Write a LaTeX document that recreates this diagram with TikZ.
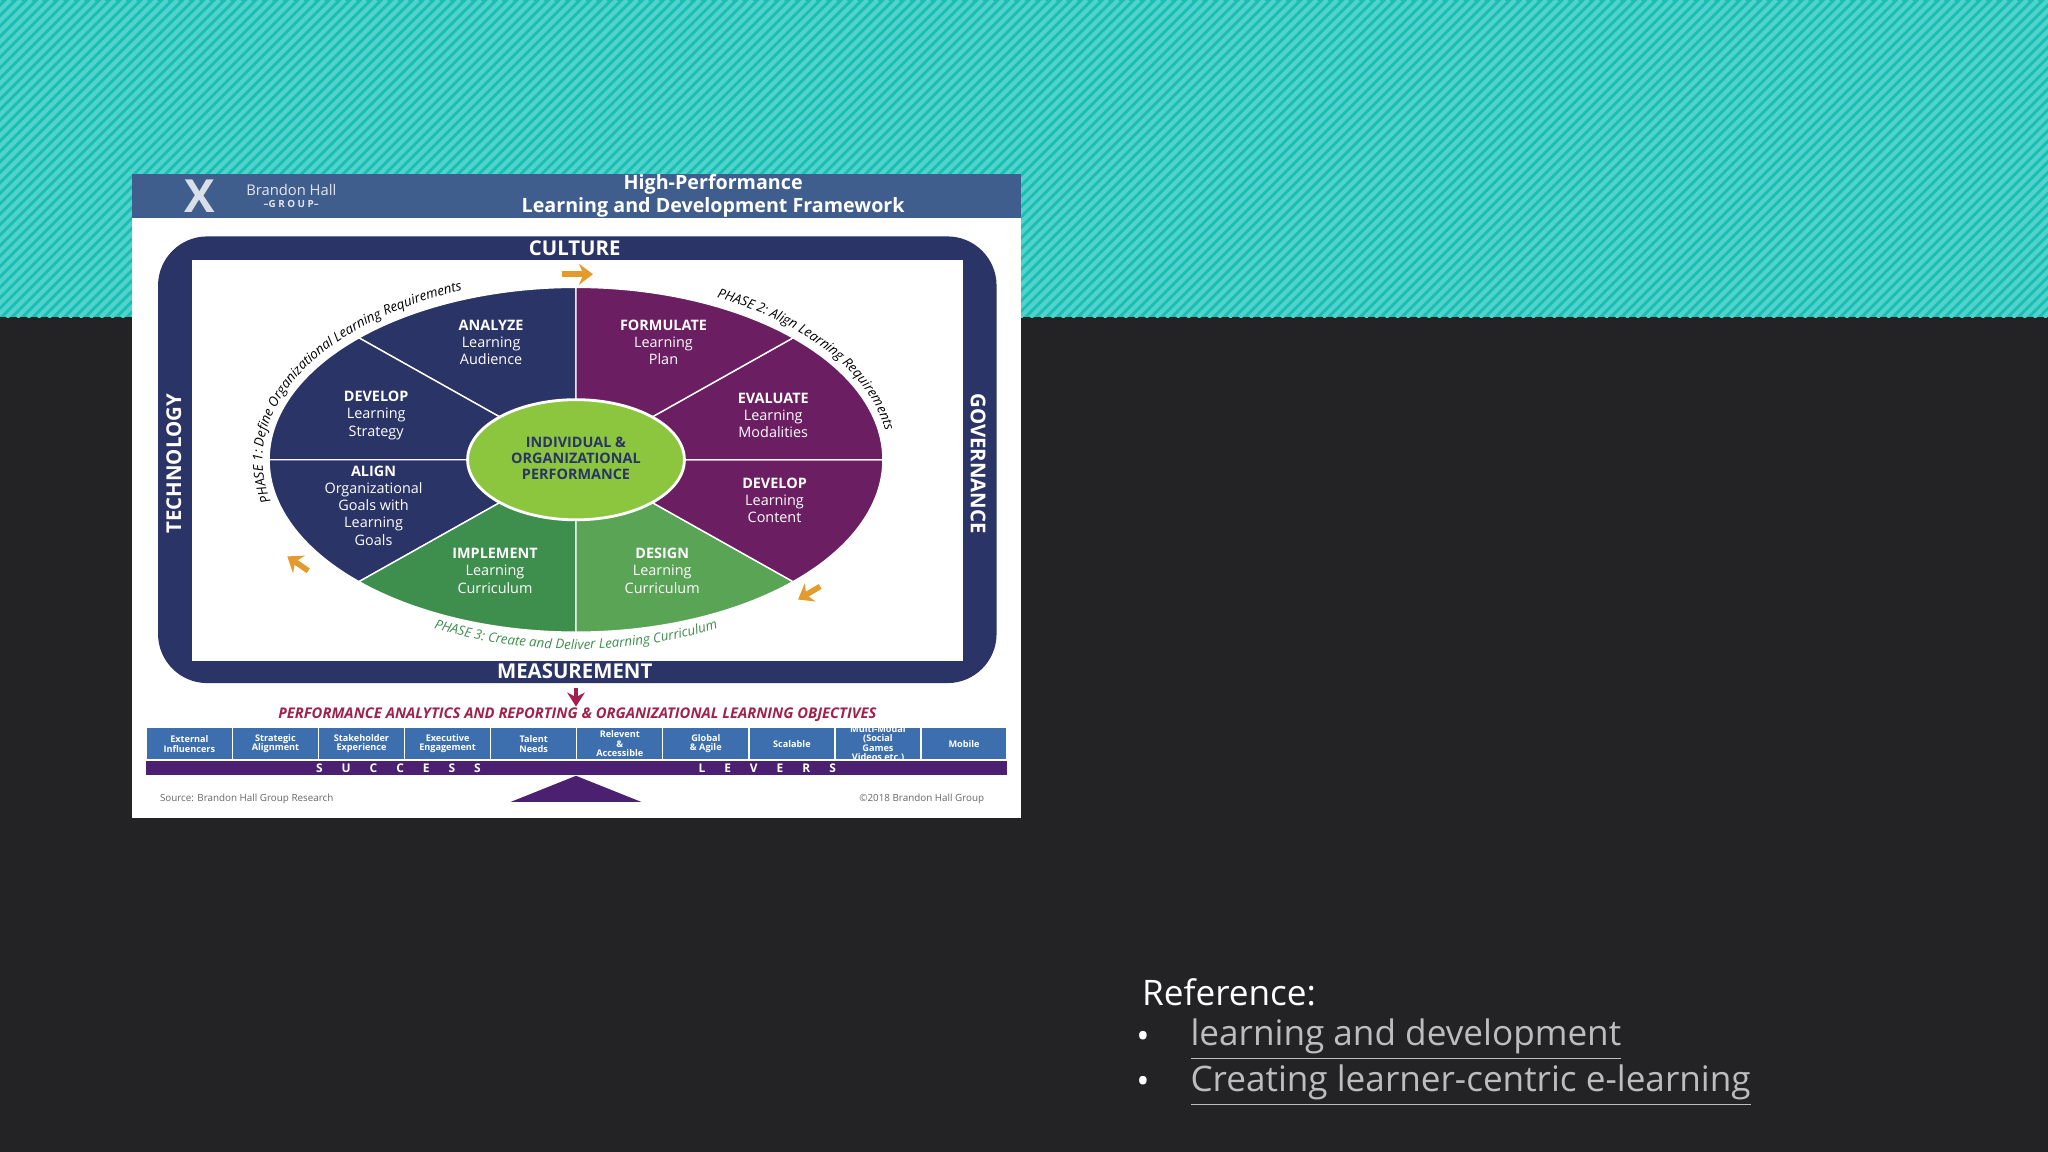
\documentclass[tikz,border=0pt]{standalone}
\usepackage{fontspec}
\setmainfont{Open Sans}
\usetikzlibrary{arrows.meta,decorations.text}
\definecolor{teal1}{HTML}{1BBDB5}
\definecolor{teal2}{HTML}{4FD3CB}
\definecolor{darkbg}{HTML}{232326}
\definecolor{hdr}{HTML}{3F5E8E}
\definecolor{navy}{HTML}{2B3466}
\definecolor{purp}{HTML}{6B1E62}
\definecolor{grnA}{HTML}{3E8E4E}
\definecolor{grnB}{HTML}{5AA456}
\definecolor{lime}{HTML}{8CC63F}
\definecolor{org}{HTML}{E39B2E}
\definecolor{lever}{HTML}{3D6FAE}
\definecolor{bar}{HTML}{4B2070}
\definecolor{redp}{HTML}{A0224A}
\definecolor{linkc}{HTML}{BDBDBD}
\begin{document}
\begin{tikzpicture}[x=0.013061cm,y=0.013061cm,
  seg/.style={font=\fontsize{4.1}{4.9}\selectfont,text=white,align=center},
  lev/.style={font=\fontsize{2.6}{2.7}\selectfont\bfseries,text=white,align=center,inner sep=0pt},
  side/.style={font=\fontsize{5.8}{6}\selectfont\bfseries,text=white},
  oarr/.style={org,line width=1.6pt,-{Stealth[length=4pt,width=6pt]}},
  phase/.style 2 args={decorate,decoration={text along path,text align=center,
     text={|\fontsize{3.8}{4}\selectfont\itshape#1|#2}}}]
\useasboundingbox (0,0) rectangle (1568,-882);
\fill[darkbg] (0,0) rectangle (1568,-882);
\fill[teal1] (0,0) rectangle (1568,-243);
\begin{scope}
\clip (0,0) rectangle (1568,-243);
\foreach \i in {0,8,...,1816}{\draw[teal2,line width=1.2pt] (\i,0) -- (\i-243,-243);}
\end{scope}
% panel
\fill[white] (101,-133) rectangle (782,-626);
\fill[hdr] (101,-133) rectangle (782,-167);
\node[text=white,font=\fontsize{5.6}{6.6}\selectfont\bfseries,align=center] (title) at (546,-150) {High-Performance\\Learning and Development Framework};
\node[text=white!80!hdr,font=\fontsize{13}{13}\selectfont\bfseries] (logoX) at (153,-150) {X};
\node[text=white!85!hdr,font=\fontsize{4.2}{4.4}\selectfont,align=center] (logo) at (223,-150) {Brandon Hall\\[-1pt]{\fontsize{2.8}{3}\selectfont\bfseries --G R O U P--}};
% frame
\fill[navy,rounded corners=14] (121,-181) rectangle (763,-523);
\fill[white] (147,-199) rectangle (737,-506);
\node[side] (cult) at (440,-190) {CULTURE};
\node[side] (meas) at (440,-514) {MEASUREMENT};
\node[side,rotate=90] (tech) at (133,-355) {TECHNOLOGY};
\node[side,rotate=-90] (gov) at (749,-355) {GOVERNANCE};
% wheel
\begin{scope}[shift={(441,-352)}]
\foreach \a/\c in {90/navy,135/navy,180/navy,225/grnA,270/grnB,315/purp,0/purp,45/purp}{
  \fill[\c,draw=white,line width=0.4pt] (0,0) -- (\a:235 and 132) arc[start angle=\a,delta angle=45,x radius=235,y radius=132] -- cycle;}
\fill[lime,draw=white,line width=0.8pt] (0,0) ellipse[x radius=83,y radius=46];
\path[phase={}{PHASE 1: Define Organizational Learning Requirements}] (210:240 and 139) arc[start angle=210,end angle=100,x radius=240,y radius=139];
\path[phase={}{PHASE 2: Align Learning Requirements}] (75:240 and 139) arc[start angle=75,end angle=-10,x radius=240,y radius=139];
\path[phase={\color{grnA}}{PHASE 3: Create and Deliver Learning Curriculum}] (232:238 and 145) arc[start angle=232,end angle=308,x radius=238,y radius=145];
\end{scope}
\node[font=\fontsize{4.1}{4.6}\selectfont\bfseries,text=navy,align=center] (core) at (441,-351) {INDIVIDUAL \&\\ORGANIZATIONAL\\PERFORMANCE};
\node[seg] (s1) at (376,-262) {\textbf{ANALYZE}\\Learning\\Audience};
\node[seg] (s2) at (508,-262) {\textbf{FORMULATE}\\Learning\\Plan};
\node[seg] (s3) at (288,-318) {\textbf{DEVELOP}\\Learning\\Strategy};
\node[seg] (s4) at (592,-318) {\textbf{EVALUATE}\\Learning\\Modalities};
\node[seg] (s5) at (286,-387) {\textbf{ALIGN}\\Organizational\\Goals with\\Learning\\Goals};
\node[seg] (s6) at (593,-383) {\textbf{DEVELOP}\\Learning\\Content};
\node[seg] (s7) at (379,-437) {\textbf{IMPLEMENT}\\Learning\\Curriculum};
\node[seg] (s8) at (507,-437) {\textbf{DESIGN}\\Learning\\Curriculum};
% orange arrows
\coordinate (o1a) at (430,-210); \coordinate (o1b) at (454,-210);
\coordinate (o2a) at (236,-437); \coordinate (o2b) at (220,-426);
\coordinate (o3a) at (628,-449); \coordinate (o3b) at (611,-459);
\draw[oarr] (o1a) -- (o1b);
\draw[oarr] (o2a) -- (o2b);
\draw[oarr] (o3a) -- (o3b);
\coordinate (ra) at (441,-527); \coordinate (rb) at (441,-541);
\draw[redp,line width=1pt,-{Stealth[length=4pt,width=5pt]}] (ra) -- (rb);
\node[text=redp,font=\fontsize{4.2}{4.5}\selectfont\bfseries\itshape] (pa) at (442,-547) {PERFORMANCE ANALYTICS AND REPORTING \& ORGANIZATIONAL LEARNING OBJECTIVES};
% levers
\foreach \t [count=\k from 0] in {External\\Influencers,Strategic\\Alignment,Stakeholder\\Experience,Executive\\Engagement,Talent\\Needs,Relevent\\\&\\Accessible,Global\\\& Agile,Scalable,Multi-Modal\\(Social\\Games\\Videos etc.),Mobile}{
  \fill[lever,draw=white,line width=0.4pt] (112+\k*65.9,-557) rectangle (112+\k*65.9+65.9,-582);
  \node[lev] (lv\k) at (112+\k*65.9+33,-569.5) {\t};}
\fill[bar] (112,-583) rectangle (771,-593);
\node[text=white,font=\fontsize{3.4}{4}\selectfont\bfseries] (sl) at (441,-588) {S\hspace{5.4pt}U\hspace{5.4pt}C\hspace{5.4pt}C\hspace{5.4pt}E\hspace{5.4pt}S\hspace{5.4pt}S\hspace{62pt}L\hspace{5.4pt}E\hspace{5.4pt}V\hspace{5.4pt}E\hspace{5.4pt}R\hspace{5.4pt}S};
\fill[bar] (391,-614) -- (441,-594) -- (491,-614) -- cycle;
\node[text=gray!80!black,font=\fontsize{2.8}{3}\selectfont,anchor=west] (src) at (113,-612) {Source: Brandon Hall Group Research};
\node[text=gray!80!black,font=\fontsize{2.8}{3}\selectfont,anchor=east] (cpy) at (763,-612) {©2018 Brandon Hall Group};
% references
\node[text=white,font=\fontsize{10}{12}\selectfont,anchor=west] (ref) at (865,-760) {Reference:};
\node[text=white,font=\fontsize{10}{12}\selectfont] (b1) at (875,-796) {•};
\node[text=white,font=\fontsize{10}{12}\selectfont] (b2) at (875,-831) {•};
\node[text=linkc,font=\fontsize{10}{12}\selectfont,anchor=west] (l1) at (902,-796) {\underline{learning and development}};
\node[text=linkc,font=\fontsize{10}{12}\selectfont,anchor=west] (l2) at (902,-831) {\underline{Creating learner-centric e-learning}};
\end{tikzpicture}
\end{document}
